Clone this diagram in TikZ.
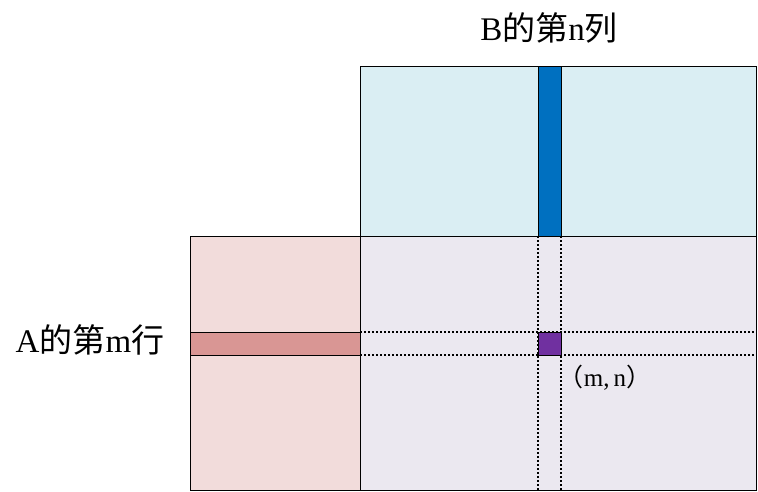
\documentclass[tikz,border=0pt]{standalone}
\usepackage{fontspec}
\setmainfont{Liberation Serif}
\newfontfamily\cjk{Noto Sans CJK SC}
\begin{document}
\begin{tikzpicture}[x=1pt,y=-1pt,
  box/.style={draw=black,line width=0.8pt},
  dots/.style={dash pattern=on 2pt off 2pt,line width=1.1pt},
  lbl/.style={inner sep=0pt,font=\fontsize{33}{35}\selectfont}]
\definecolor{bfill}{HTML}{DAEEF3}
\definecolor{bcol}{HTML}{0070C0}
\definecolor{afill}{HTML}{F2DCDB}
\definecolor{arow}{HTML}{D99694}
\definecolor{cfill}{HTML}{EBE8F0}
\definecolor{pcell}{HTML}{7030A0}
\useasboundingbox (0,0) rectangle (758,492);
\fill[bfill] (360,66) rectangle (756,236);
\fill[afill] (190,236) rectangle (360,490);
\fill[cfill] (360,236) rectangle (756,490);
\draw[box,fill=bcol] (538,66) rectangle (561,236);
\draw[box,fill=arow] (190,332) rectangle (360,355);
\draw[dots] (538,236) -- (538,490) (561,236) -- (561,490);
\draw[dots] (360,332) -- (756,332) (360,355) -- (756,355);
\draw[box,fill=pcell] (538,332) rectangle (561,355);
\draw[box] (360,66) rectangle (756,236);
\draw[box] (190,236) rectangle (360,490);
\draw[box] (360,236) rectangle (756,490);
\node[lbl] (bl) at (549,28) {B{\cjk 的第}n{\cjk 列}};
\node[lbl] (al) at (90,340) {A{\cjk 的第}m{\cjk 行}};
\node[inner sep=0pt,font=\fontsize{25}{27}\selectfont] (mn) at (605,378) {{\cjk （}m,\,n{\cjk ）}};
\end{tikzpicture}
\end{document}
